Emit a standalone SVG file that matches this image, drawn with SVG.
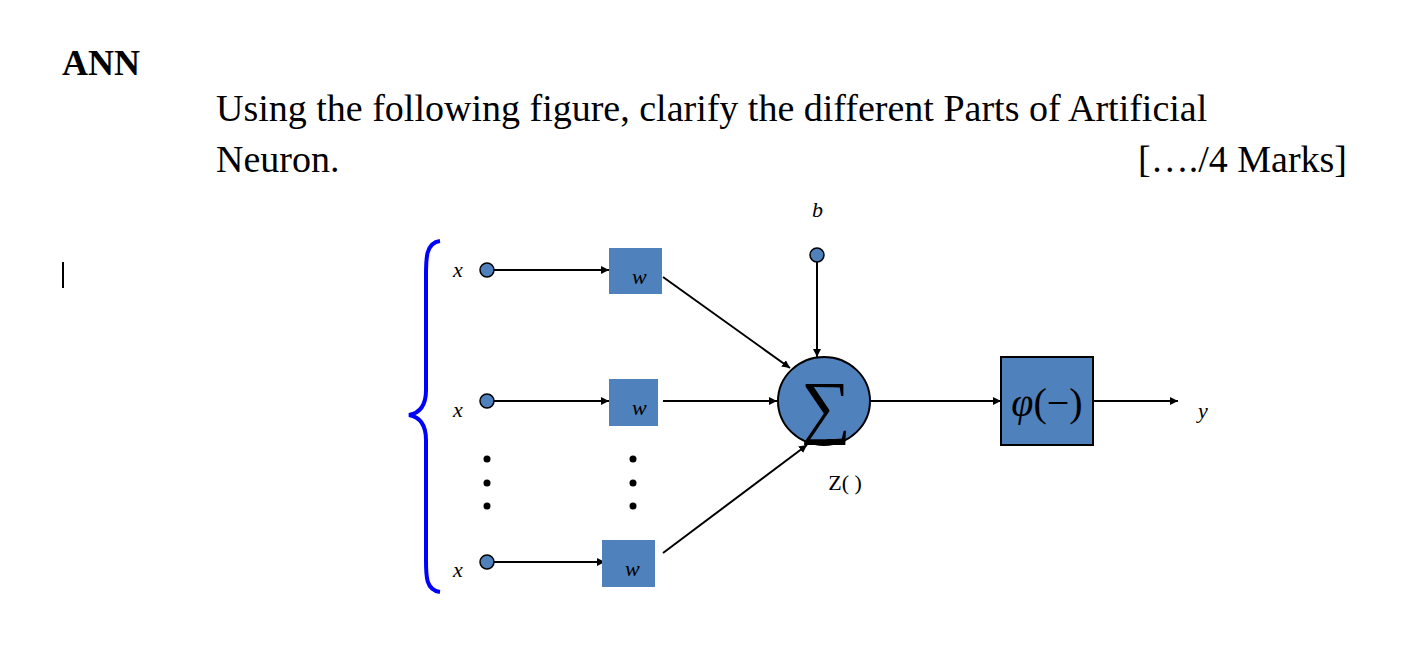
<svg xmlns="http://www.w3.org/2000/svg" width="1417" height="651" viewBox="0 0 1417 651">
<defs>
<style>
text{font-family:"Liberation Serif","Times New Roman",serif;fill:#000}
.i{font-style:italic;font-size:22px}
.c{stroke:#000;stroke-width:2;fill:none}
.b{fill:#4f81bd}
</style>
<marker id="a" viewBox="0 0 10 10" refX="10" refY="5" markerWidth="8" markerHeight="8" orient="auto" markerUnits="userSpaceOnUse"><path d="M0,0L10,5L0,10z" fill="#000"/></marker>
</defs>
<rect width="1417" height="651" fill="#fff"/>
<text x="62" y="75" font-size="36" font-weight="bold">ANN</text>
<text x="216" y="121" font-size="38">Using the following figure, clarify the different Parts of Artificial</text>
<text x="216" y="172" font-size="38">Neuron.</text>
<text x="1347" y="172" font-size="38" text-anchor="end">[…./4 Marks]</text>
<line x1="63" y1="262" x2="63" y2="288" stroke="#000" stroke-width="2"/>
<path d="M440,241 C425,243 426,260 426,280 L426,390 C426,405 420,413 409,415 C420,417 426,425 426,440 L426,555 C426,575 425,590 440,592" fill="none" stroke="#0000ff" stroke-width="4"/>
<g id="connectors">
<line class="c" x1="494" y1="270" x2="609" y2="270" marker-end="url(#a)" stroke-width="20" style="stroke-width:2"/>
<line class="c" x1="494" y1="401" x2="609" y2="401" marker-end="url(#a)"/>
<line class="c" x1="494" y1="562" x2="605" y2="562" marker-end="url(#a)"/>
<line class="c" x1="663" y1="277" x2="790" y2="368" marker-end="url(#a)"/>
<line class="c" x1="663" y1="401" x2="777" y2="401" marker-end="url(#a)"/>
<line class="c" x1="663" y1="553" x2="807" y2="445" marker-end="url(#a)"/>
<line class="c" x1="817" y1="262" x2="817" y2="357" marker-end="url(#a)"/>
<line class="c" x1="870" y1="401" x2="1001" y2="401" marker-end="url(#a)"/>
<line class="c" x1="1093" y1="401" x2="1178" y2="401" marker-end="url(#a)"/>
</g>
<g id="x1"><circle class="b" cx="487" cy="270" r="7" stroke="#000" stroke-width="1.5"/><text class="i" x="453" y="277">x</text></g>
<g id="x2"><circle class="b" cx="487" cy="401" r="7" stroke="#000" stroke-width="1.5"/><text class="i" x="453" y="417">x</text></g>
<g id="x3"><circle class="b" cx="487" cy="562" r="7" stroke="#000" stroke-width="1.5"/><text class="i" x="453" y="577">x</text></g>
<g id="dots1"><circle cx="487" cy="459" r="3.5"/><circle cx="487" cy="483" r="3.5"/><circle cx="487" cy="506" r="3.5"/></g>
<g id="dots2"><circle cx="633" cy="459" r="3.5"/><circle cx="633" cy="483" r="3.5"/><circle cx="633" cy="506" r="3.5"/></g>
<g id="w1"><rect class="b" x="609" y="248" width="53" height="46"/><text class="i" x="632" y="284">w</text></g>
<g id="w2"><rect class="b" x="609" y="379" width="49" height="47"/><text class="i" x="632" y="415">w</text></g>
<g id="w3"><rect class="b" x="602" y="540" width="53" height="47"/><text class="i" x="625" y="576">w</text></g>
<g id="b"><circle class="b" cx="817" cy="255" r="7" stroke="#000" stroke-width="1.5"/><text class="i" x="812" y="217">b</text></g>
<g id="sum"><ellipse class="b" cx="824" cy="401" rx="46" ry="44" stroke="#000" stroke-width="2"/><text x="826" y="430" font-size="70" text-anchor="middle">∑</text><text x="845" y="490" font-size="22" text-anchor="middle">Z( )</text></g>
<g id="phi"><rect class="b" x="1001" y="357" width="92" height="88" stroke="#000" stroke-width="2"/><text x="1047" y="416" font-size="40" text-anchor="middle"><tspan font-style="italic">φ</tspan>(−)</text></g>
<text class="i" x="1198" y="418">y</text>
</svg>
